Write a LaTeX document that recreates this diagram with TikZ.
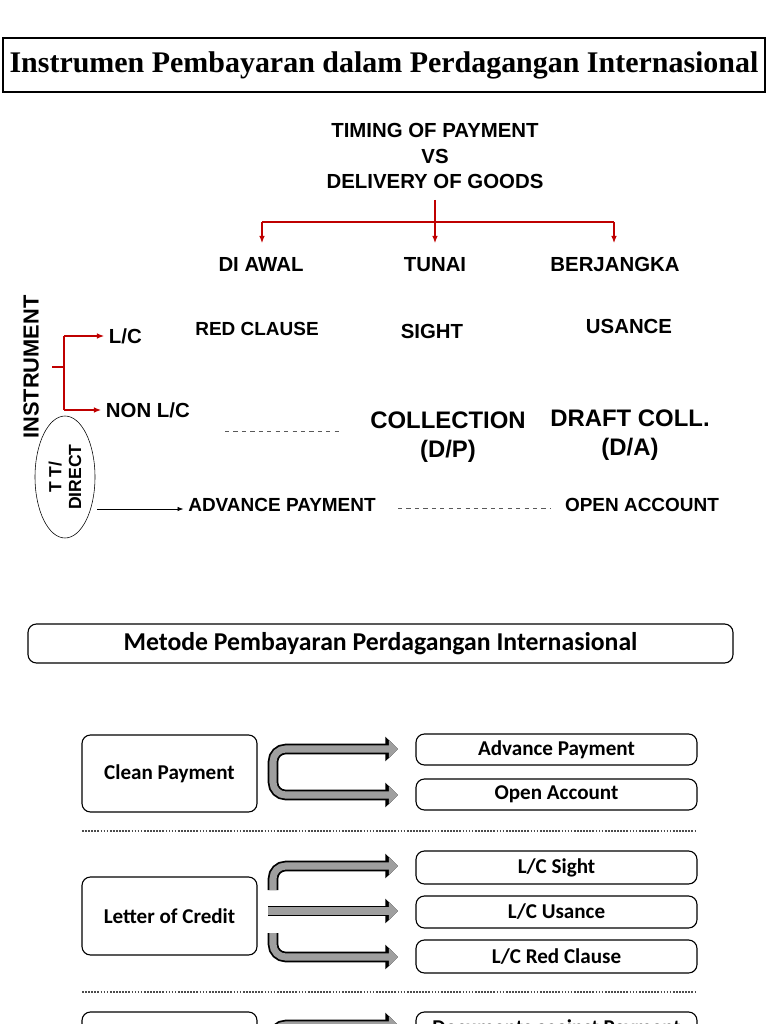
\documentclass[tikz,border=0pt]{standalone}
\usepackage{fontspec}
\setmainfont{Liberation Sans}
\newfontfamily\titlefont{Liberation Serif}
\newfontfamily\calfont{Carlito}
\usetikzlibrary{arrows.meta,shapes.geometric}
\tikzset{
  txt/.style={font=\bfseries\fontsize{14.5pt}{17pt}\selectfont, align=center},
  head/.style={txt, text height=11pt, text depth=3pt},
  big/.style={font=\bfseries\fontsize{17pt}{21pt}\selectfont, align=center},
  redarr/.style={draw=red!75!black, thick, -{Latex[length=5pt,width=4pt]}},
  box/.style={draw, thick, rounded corners=6pt, font=\calfont\bfseries\fontsize{15pt}{17pt}\selectfont},
  fatout/.style={line width=7.5pt, rounded corners=9pt, -{Triangle[length=9pt,width=17pt]}},
  fatin/.style={line width=5pt, rounded corners=9pt, gray!75, -{Triangle[length=6.5pt,width=12pt]}},
}
\begin{document}
\begin{tikzpicture}[x=0.025cm,y=-0.025cm]
\useasboundingbox (0,0) rectangle (768,1024);
% title
\node[draw, thick, minimum width=762*0.025cm, minimum height=54*0.025cm,
  font=\titlefont\bfseries\fontsize{21.3pt}{23pt}\selectfont] (title) at (384,65) {Instrumen Pembayaran dalam Perdagangan Internasional};

% timing of payment
\node[txt, font=\bfseries\fontsize{14.5pt}{18.2pt}\selectfont] (timing) at (435,156) {TIMING OF PAYMENT\\VS\\DELIVERY OF GOODS};
\coordinate (tj) at (435,222);
\coordinate (tl) at (262,222);
\coordinate (tr) at (614,222);
\draw[red!75!black, thick] (435,200) -- (tj) (tl) -- (tr);
\node[head] (awal) at (261,266) {DI AWAL};
\node[head] (tunai) at (435,266) {TUNAI};
\node[head] (jangka) at (615,266) {BERJANGKA};
\draw[redarr] (tl) -- ++(0,21);
\draw[redarr] (tj) -- ++(0,21);
\draw[redarr] (tr) -- ++(0,21);

% instrument
\node[txt, rotate=90, font=\bfseries\fontsize{15.5pt}{17pt}\selectfont] (instr) at (31,367) {INSTRUMENT};
\node[txt, anchor=west] (lc) at (104,336) {L/C};
\node[txt, anchor=west] (nonlc) at (101,410) {NON L/C};
\coordinate (ij) at (64,367);
\draw[red!75!black, thick] (52,367) -- (ij) (64,336) -- (64,410);
\draw[redarr] (64,336) -- (lc.west);
\draw[redarr] (64,410) -- (nonlc.west);

\node[txt, font=\bfseries\fontsize{13.5pt}{15pt}\selectfont] (red) at (257,329) {RED CLAUSE};
\node[txt] (sight) at (432,331) {SIGHT};
\node[txt] (usance) at (629,326) {USANCE};
\draw[gray!70!black, dashed] (225,431) -- (340,431);
\node[big] (coll) at (448,437) {COLLECTION\\(D/P)};
\node[big] (draft) at (630,435) {DRAFT COLL.\\(D/A)};

% TT direct
\node[draw, ellipse, minimum width=60*0.025cm, minimum height=122*0.025cm] (tt) at (65,477) {};
\node[txt, rotate=90, font=\bfseries\fontsize{12.5pt}{14pt}\selectfont] (ttlbl) at (65,477) {T T/\\DIRECT};
\node[txt, font=\bfseries\fontsize{13.5pt}{15pt}\selectfont] (adv) at (282,505) {ADVANCE PAYMENT};
\node[txt, font=\bfseries\fontsize{13.5pt}{15pt}\selectfont] (open) at (642,505) {OPEN ACCOUNT};
\coordinate (ttend) at (97,509);
\draw[-{Latex[length=4pt,width=3pt]}] (ttend) -- (ttend -| adv.west);
\draw[gray!70!black, dashed] (398,508) -- (550,508);

% metode pembayaran
\node[box, minimum width=705*0.025cm, minimum height=39*0.025cm,
  font=\calfont\bfseries\fontsize{18.3pt}{20pt}\selectfont] (metode) at (380.5,643.5) {Metode Pembayaran Perdagangan Internasional};

% clean payment
\node[box, minimum width=175*0.025cm, minimum height=77*0.025cm] (clean) at (169.5,773.5) {Clean Payment};
\node[box, minimum width=281*0.025cm, minimum height=31*0.025cm] (advp) at (556.5,749.5) {Advance Payment};
\node[box, minimum width=281*0.025cm, minimum height=31*0.025cm] (opena) at (556.5,794.5) {Open Account};
\foreach \s in {fatout,fatin}{
  \draw[\s] (273,773) -- (273,749) -- (398,749);
  \draw[\s] (273,773) -- (273,795) -- (398,795);
}
\draw[densely dotted, line width=1.2pt, gray!60!black] (82,831) -- (697,831);

% letter of credit
\node[box, minimum width=175*0.025cm, minimum height=78*0.025cm] (loc) at (169.5,916) {Letter of Credit};
\node[box, minimum width=281*0.025cm, minimum height=33*0.025cm] (lcs) at (556.5,867.5) {L/C Sight};
\node[box, minimum width=281*0.025cm, minimum height=32*0.025cm] (lcu) at (556.5,912) {L/C Usance};
\node[box, minimum width=281*0.025cm, minimum height=33*0.025cm] (lcr) at (556.5,956.5) {L/C Red Clause};
\foreach \s in {fatout,fatin}{
  \draw[\s] (273,890) -- (273,866) -- (398,866);
  \draw[\s] (268,911) -- (398,911);
  \draw[\s] (273,933) -- (273,957) -- (398,957);
}
\draw[densely dotted, line width=1.2pt, gray!60!black] (82,992) -- (697,992);

% documentary collection (cut off)
\node[box, minimum width=175*0.025cm, minimum height=78*0.025cm] (doc) at (169.5,1051) {};
\node[box, minimum width=281*0.025cm, minimum height=33*0.025cm] (dap) at (556.5,1028.5) {Documents against Payment};
\foreach \s in {fatout,fatin}{
  \draw[\s] (273,1046) -- (273,1025) -- (398,1025);
}
\end{tikzpicture}
\end{document}
